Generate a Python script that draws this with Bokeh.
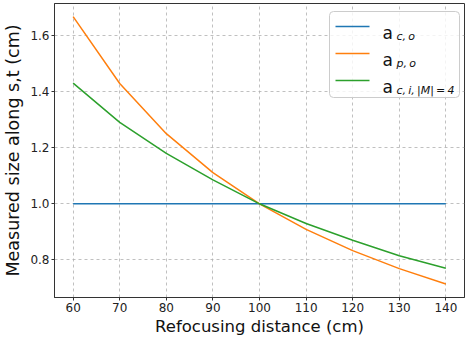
from bokeh.plotting import figure
from bokeh.models import (Range1d, FixedTicker, NumeralTickFormatter, Label, BoxAnnotation)
from bokeh.embed import file_html
from bokeh.resources import INLINE

# ---- data ----
distance = [60, 70, 80, 90, 100, 110, 120, 130, 140]
a_c_o = [1.0, 1.0, 1.0, 1.0, 1.0, 1.0, 1.0, 1.0, 1.0]
a_p_o = [1.667, 1.429, 1.25, 1.111, 1.0, 0.909, 0.833, 0.769, 0.714]
a_c_i = [1.43, 1.29, 1.18, 1.085, 1.0, 0.93, 0.87, 0.815, 0.77]
x_ticks = [60, 70, 80, 90, 100, 110, 120, 130, 140]
y_ticks = [0.8, 1.0, 1.2, 1.4, 1.6]
series_colors = ["#1f77b4", "#ff7f0e", "#2ca02c"]
legend_main = ["a", "a", "a"]
legend_sub = ["c,\u2009o", "p,\u2009o", "c,\u2009i,\u2009|M|\u2009=\u20094"]

FONT = "DejaVu Sans"
W, H = 466, 339
B_LEFT, B_RIGHT, B_TOP, B_BOTTOM = 54, 2, 3, 42
FB = H - B_BOTTOM - B_TOP  # frame height; screen offsets below are from frame bottom

p = figure(width=W, height=H, output_backend="svg", toolbar_location=None,
           x_range=Range1d(56, 144), y_range=Range1d(0.666, 1.714),
           min_border_left=B_LEFT, min_border_right=B_RIGHT,
           min_border_top=B_TOP, min_border_bottom=B_BOTTOM)

p.outline_line_color = "#333333"
p.outline_line_width = 1
p.background_fill_color = "white"

for ax in (p.xaxis, p.yaxis):
    ax.major_label_text_font = FONT
    ax.major_label_text_font_size = "12px"
    ax.major_label_text_color = "#222222"
    ax.axis_label_text_font = FONT
    ax.axis_label_text_font_style = "normal"
    ax.axis_label_text_color = "#111111"
    ax.minor_tick_line_color = None
    ax.major_tick_out = 3
    ax.major_tick_in = 0
    ax.axis_line_color = "#333333"
    ax.major_tick_line_color = "#333333"
    ax.major_label_standoff = 2
    ax.axis_label_standoff = 2

p.xaxis.axis_label_text_font_size = "16.5px"
p.yaxis.axis_label_text_font_size = "17.5px"
p.yaxis.axis_label_standoff = 4

p.xaxis.ticker = FixedTicker(ticks=x_ticks)
p.yaxis.ticker = FixedTicker(ticks=y_ticks)
p.yaxis.formatter = NumeralTickFormatter(format="0.0")
p.xaxis.axis_label = "Refocusing distance (cm)"
p.yaxis.axis_label = "Measured size along s,t (cm)"

p.grid.grid_line_color = "#b0b0b0"
p.grid.grid_line_dash = "3 3"
p.grid.grid_line_width = 0.8

p.line(distance, a_c_o, line_color=series_colors[0], line_width=1.6)
p.line(distance, a_p_o, line_color=series_colors[1], line_width=1.5)
p.line(distance, a_c_i, line_color=series_colors[2], line_width=1.5)

# ---- legend (manual, screen units relative to the frame) ----
frame_top = H - B_BOTTOM  # y of frame top measured from the frame bottom... (frame height + 0)
ft = H - B_BOTTOM - B_TOP  # frame height
def sy(y_from_top):
    """screen y (from frame bottom) for a pixel row measured from the frame top"""
    return ft - y_from_top

p.add_layout(BoxAnnotation(left=275, right=405, top=sy(8), bottom=sy(94),
                           left_units="screen", right_units="screen",
                           top_units="screen", bottom_units="screen",
                           fill_color="white", fill_alpha=0.8,
                           line_color="#cccccc", line_width=1, line_alpha=1,
                           border_radius=4))

for i, (col, main, sub) in enumerate(zip(series_colors, legend_main, legend_sub)):
    c = 23 + i * 27  # row centre from frame top
    p.add_layout(BoxAnnotation(left=281, right=315, top=sy(c - 0.75), bottom=sy(c + 0.75),
                               left_units="screen", right_units="screen",
                               top_units="screen", bottom_units="screen",
                               fill_color=col, fill_alpha=1, line_color=None))
    p.add_layout(Label(x=328, y=sy(c + 6), x_units="screen", y_units="screen",
                       text=main, text_font=FONT, text_font_size="17px",
                       text_baseline="alphabetic", text_color="#111111"))
    p.add_layout(Label(x=342, y=sy(c + 10), x_units="screen", y_units="screen",
                       text=sub, text_font=FONT, text_font_size="11px",
                       text_baseline="alphabetic", text_font_style="italic",
                       text_color="#111111"))

open("out.html", "w").write(file_html(p, INLINE))
